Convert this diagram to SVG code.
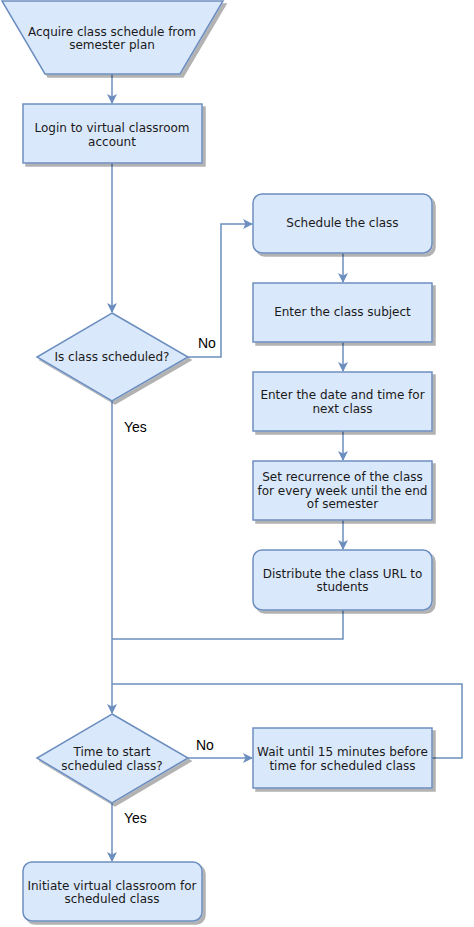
<svg xmlns="http://www.w3.org/2000/svg" width="474" height="927" viewBox="0 0 474 927">
<style>
.n{fill:#dae8fc;stroke:#6c8ebf;stroke-width:1.5;filter:url(#sh)}
.t{font-family:"DejaVu Sans",Verdana,sans-serif;font-size:12px;fill:#1a1a1a;text-anchor:middle}
.l{font-family:"Liberation Sans",Arial,sans-serif;font-size:14px;fill:#000}
.c{fill:none;stroke:#6c8ebf;stroke-width:1.5}
</style>
<defs>
<filter id="sh" x="-10%" y="-10%" width="130%" height="130%">
<feDropShadow dx="3" dy="3" stdDeviation="0.6" flood-color="#000" flood-opacity="0.3"/>
</filter>
<marker id="a" viewBox="0 0 10 10" refX="9" refY="5" markerWidth="10" markerHeight="10" markerUnits="userSpaceOnUse" orient="auto">
<path d="M0,0 L10,5 L0,10 L2.5,5 Z" fill="#6c8ebf"/>
</marker>
</defs>
<g id="connectors">
<path class="c" d="M112,74 L112,103" marker-end="url(#a)"/>
<path class="c" d="M112,163 L112,312" marker-end="url(#a)"/>
<path class="c" d="M188,357 L221,357 L221,224 L252,224" marker-end="url(#a)"/>
<path class="c" d="M343,253 L343,282" marker-end="url(#a)"/>
<path class="c" d="M343,342 L343,371" marker-end="url(#a)"/>
<path class="c" d="M343,431 L343,460" marker-end="url(#a)"/>
<path class="c" d="M343,520 L343,549" marker-end="url(#a)"/>
<path class="c" d="M112,401 L112,713" marker-end="url(#a)"/>
<path class="c" d="M343,610 L343,639 L112,639"/>
<path class="c" d="M432,758 L462,758 L462,684 L112,684"/>
<path class="c" d="M188,758 L252,758" marker-end="url(#a)"/>
<path class="c" d="M112,803 L112,861" marker-end="url(#a)"/>
<text class="l" x="198" y="348">No</text>
<text class="l" x="124" y="432">Yes</text>
<text class="l" x="196" y="750">No</text>
<text class="l" x="124" y="823">Yes</text>
</g>
<g id="acquire">
<path class="n" d="M2,1 L223,1 L180,74 L45,74 Z"/>
<text class="t" x="112" y="36">Acquire class schedule from</text>
<text class="t" x="112" y="49">semester plan</text>
</g>
<g id="login">
<rect class="n" x="23" y="104" width="179" height="59"/>
<text class="t" x="112" y="132">Login to virtual classroom</text>
<text class="t" x="112" y="146">account</text>
</g>
<g id="isScheduled">
<path class="n" d="M112,313 L188,357 L112,401 L37,357 Z"/>
<text class="t" x="112" y="361">Is class scheduled?</text>
</g>
<g id="schedule">
<rect class="n" x="253" y="194" width="179" height="59" rx="9"/>
<text class="t" x="342.5" y="227">Schedule the class</text>
</g>
<g id="subject">
<rect class="n" x="253" y="283" width="179" height="59"/>
<text class="t" x="342.5" y="316">Enter the class subject</text>
</g>
<g id="datetime">
<rect class="n" x="253" y="372" width="179" height="59"/>
<text class="t" x="342.5" y="399">Enter the date and time for</text>
<text class="t" x="342.5" y="413">next class</text>
</g>
<g id="recurrence">
<rect class="n" x="253" y="461" width="179" height="59"/>
<text class="t" x="342.5" y="481">Set recurrence of the class</text>
<text class="t" x="342.5" y="495">for every week until the end</text>
<text class="t" x="342.5" y="508">of semester</text>
</g>
<g id="distribute">
<rect class="n" x="253" y="550" width="179" height="60" rx="9"/>
<text class="t" x="342.5" y="578">Distribute the class URL to</text>
<text class="t" x="342.5" y="591">students</text>
</g>
<g id="timeToStart">
<path class="n" d="M112,714 L188,758 L112,803 L37,758 Z"/>
<text class="t" x="112" y="756">Time to start</text>
<text class="t" x="112" y="770">scheduled class?</text>
</g>
<g id="wait">
<rect class="n" x="253" y="728" width="179" height="60"/>
<text class="t" x="342.5" y="756">Wait until 15 minutes before</text>
<text class="t" x="342.5" y="770">time for scheduled class</text>
</g>
<g id="initiate">
<rect class="n" x="23" y="862" width="179" height="59" rx="9"/>
<text class="t" x="112" y="890">Initiate virtual classroom for</text>
<text class="t" x="112" y="903">scheduled class</text>
</g>
</svg>
